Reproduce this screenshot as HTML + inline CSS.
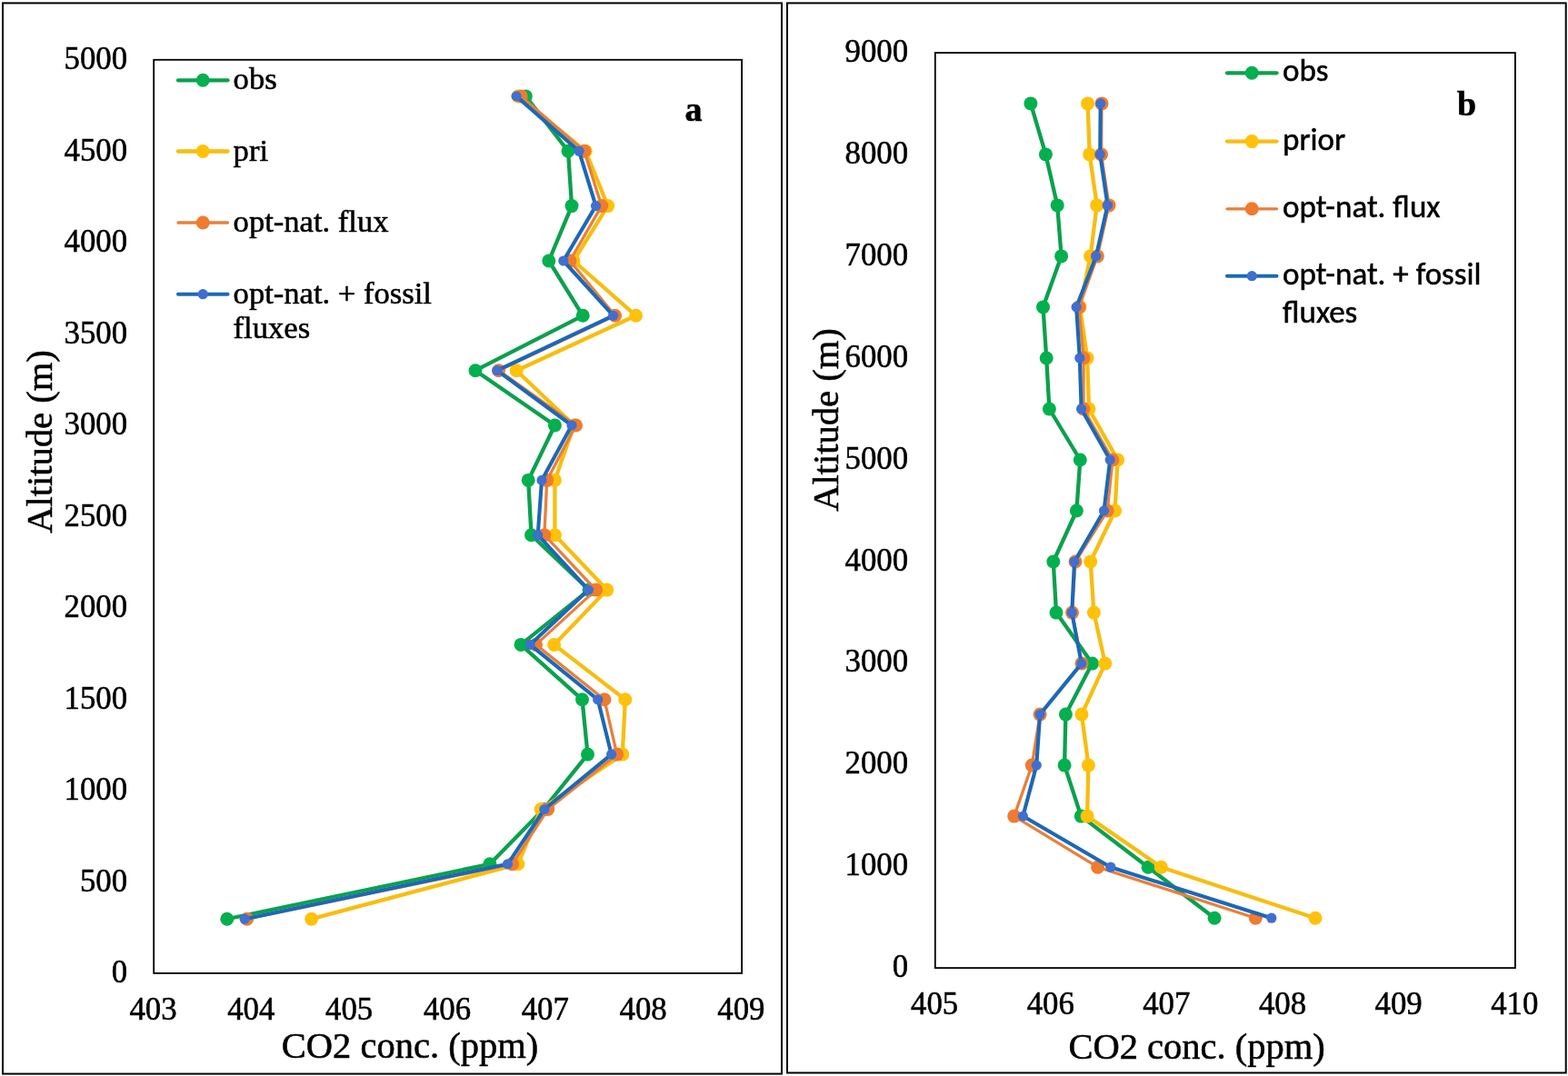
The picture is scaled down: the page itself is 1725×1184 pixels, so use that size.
<!DOCTYPE html>
<html><head><meta charset="utf-8"><title>CO2 profiles</title>
<style>html,body{margin:0;padding:0;background:#fff}svg{display:block}</style></head>
<body>
<svg width="1725" height="1184" viewBox="0 0 1725 1184">
<rect width="1725" height="1184" fill="#fff"/>
<rect x="3" y="3.4" width="857" height="1178.2" fill="none" stroke="#000" stroke-width="2"/>
<rect x="866" y="3.4" width="856.7" height="1177.1" fill="none" stroke="#000" stroke-width="2"/>
<rect x="169.2" y="65.8" width="646.9" height="1005.1" fill="none" stroke="#000" stroke-width="1.8"/>
<rect x="1028.8" y="58.1" width="638.1" height="1007.0" fill="none" stroke="#000" stroke-width="1.8"/>
<text transform="translate(140,1081.2) scale(0.965,1)" text-anchor="end" style="font-family:'Liberation Serif','Times New Roman',serif;stroke:#000;stroke-width:0.55px;font-size:36px">0</text>
<text transform="translate(140,980.7) scale(0.965,1)" text-anchor="end" style="font-family:'Liberation Serif','Times New Roman',serif;stroke:#000;stroke-width:0.55px;font-size:36px">500</text>
<text transform="translate(140,880.2) scale(0.965,1)" text-anchor="end" style="font-family:'Liberation Serif','Times New Roman',serif;stroke:#000;stroke-width:0.55px;font-size:36px">1000</text>
<text transform="translate(140,779.7) scale(0.965,1)" text-anchor="end" style="font-family:'Liberation Serif','Times New Roman',serif;stroke:#000;stroke-width:0.55px;font-size:36px">1500</text>
<text transform="translate(140,679.2) scale(0.965,1)" text-anchor="end" style="font-family:'Liberation Serif','Times New Roman',serif;stroke:#000;stroke-width:0.55px;font-size:36px">2000</text>
<text transform="translate(140,578.6) scale(0.965,1)" text-anchor="end" style="font-family:'Liberation Serif','Times New Roman',serif;stroke:#000;stroke-width:0.55px;font-size:36px">2500</text>
<text transform="translate(140,478.1) scale(0.965,1)" text-anchor="end" style="font-family:'Liberation Serif','Times New Roman',serif;stroke:#000;stroke-width:0.55px;font-size:36px">3000</text>
<text transform="translate(140,377.6) scale(0.965,1)" text-anchor="end" style="font-family:'Liberation Serif','Times New Roman',serif;stroke:#000;stroke-width:0.55px;font-size:36px">3500</text>
<text transform="translate(140,277.1) scale(0.965,1)" text-anchor="end" style="font-family:'Liberation Serif','Times New Roman',serif;stroke:#000;stroke-width:0.55px;font-size:36px">4000</text>
<text transform="translate(140,176.6) scale(0.965,1)" text-anchor="end" style="font-family:'Liberation Serif','Times New Roman',serif;stroke:#000;stroke-width:0.55px;font-size:36px">4500</text>
<text transform="translate(140,76.1) scale(0.965,1)" text-anchor="end" style="font-family:'Liberation Serif','Times New Roman',serif;stroke:#000;stroke-width:0.55px;font-size:36px">5000</text>
<text transform="translate(168.5,1122) scale(0.965,1)" text-anchor="middle" style="font-family:'Liberation Serif','Times New Roman',serif;stroke:#000;stroke-width:0.55px;font-size:36px">403</text>
<text transform="translate(276.3,1122) scale(0.965,1)" text-anchor="middle" style="font-family:'Liberation Serif','Times New Roman',serif;stroke:#000;stroke-width:0.55px;font-size:36px">404</text>
<text transform="translate(384.1,1122) scale(0.965,1)" text-anchor="middle" style="font-family:'Liberation Serif','Times New Roman',serif;stroke:#000;stroke-width:0.55px;font-size:36px">405</text>
<text transform="translate(492.0,1122) scale(0.965,1)" text-anchor="middle" style="font-family:'Liberation Serif','Times New Roman',serif;stroke:#000;stroke-width:0.55px;font-size:36px">406</text>
<text transform="translate(599.8,1122) scale(0.965,1)" text-anchor="middle" style="font-family:'Liberation Serif','Times New Roman',serif;stroke:#000;stroke-width:0.55px;font-size:36px">407</text>
<text transform="translate(707.6,1122) scale(0.965,1)" text-anchor="middle" style="font-family:'Liberation Serif','Times New Roman',serif;stroke:#000;stroke-width:0.55px;font-size:36px">408</text>
<text transform="translate(815.4,1122) scale(0.965,1)" text-anchor="middle" style="font-family:'Liberation Serif','Times New Roman',serif;stroke:#000;stroke-width:0.55px;font-size:36px">409</text>
<text x="451" y="1164.3" text-anchor="middle" style="font-family:'Liberation Serif','Times New Roman',serif;stroke:#000;stroke-width:0.55px;font-size:40.5px">CO2 conc. (ppm)</text>
<text transform="translate(56.9,486) rotate(-90)" text-anchor="middle" style="font-family:'Liberation Serif','Times New Roman',serif;stroke:#000;stroke-width:0.55px;font-size:40.6px">Altitude (m)</text>
<text x="753.5" y="132.6" style="font-family:'Liberation Serif','Times New Roman',serif;stroke:#000;stroke-width:0.55px;font-size:38px;font-weight:bold">a</text>
<line x1="196" y1="88.3" x2="250.5" y2="88.3" stroke="#0ca04e" stroke-width="4.3" stroke-linecap="round"/><circle cx="223.25" cy="88.3" r="7.5" fill="#04b04e"/>
<text x="256.6" y="98.3" style="font-family:'Liberation Serif','Times New Roman',serif;stroke:#000;stroke-width:0.55px;font-size:34.6px">obs</text>
<line x1="196" y1="166.5" x2="250.5" y2="166.5" stroke="#f7bd10" stroke-width="4.3" stroke-linecap="round"/><circle cx="223.25" cy="166.5" r="7.5" fill="#ffc10a"/>
<text x="256.6" y="176.5" style="font-family:'Liberation Serif','Times New Roman',serif;stroke:#000;stroke-width:0.55px;font-size:34.6px">pri</text>
<line x1="196" y1="245" x2="250.5" y2="245" stroke="#e8803a" stroke-width="3.3" stroke-linecap="round"/><circle cx="223.25" cy="245" r="7.5" fill="#ef7b2f"/>
<text x="256.6" y="255.0" style="font-family:'Liberation Serif','Times New Roman',serif;stroke:#000;stroke-width:0.55px;font-size:34.6px">opt-nat. flux</text>
<line x1="196" y1="323.7" x2="250.5" y2="323.7" stroke="#1c68b8" stroke-width="4.1" stroke-linecap="round"/><circle cx="223.25" cy="323.7" r="5.6" fill="#3f6fd0"/>
<text x="256.6" y="333.7" style="font-family:'Liberation Serif','Times New Roman',serif;stroke:#000;stroke-width:0.55px;font-size:34.6px">opt-nat. + fossil</text>
<text x="256.6" y="371.6" style="font-family:'Liberation Serif','Times New Roman',serif;stroke:#000;stroke-width:0.55px;font-size:34.6px">fluxes</text>
<text transform="translate(999,1075.1) scale(0.965,1)" text-anchor="end" style="font-family:'Liberation Serif','Times New Roman',serif;stroke:#000;stroke-width:0.55px;font-size:36px">0</text>
<text transform="translate(999,963.2) scale(0.965,1)" text-anchor="end" style="font-family:'Liberation Serif','Times New Roman',serif;stroke:#000;stroke-width:0.55px;font-size:36px">1000</text>
<text transform="translate(999,851.3) scale(0.965,1)" text-anchor="end" style="font-family:'Liberation Serif','Times New Roman',serif;stroke:#000;stroke-width:0.55px;font-size:36px">2000</text>
<text transform="translate(999,739.4) scale(0.965,1)" text-anchor="end" style="font-family:'Liberation Serif','Times New Roman',serif;stroke:#000;stroke-width:0.55px;font-size:36px">3000</text>
<text transform="translate(999,627.5) scale(0.965,1)" text-anchor="end" style="font-family:'Liberation Serif','Times New Roman',serif;stroke:#000;stroke-width:0.55px;font-size:36px">4000</text>
<text transform="translate(999,515.7) scale(0.965,1)" text-anchor="end" style="font-family:'Liberation Serif','Times New Roman',serif;stroke:#000;stroke-width:0.55px;font-size:36px">5000</text>
<text transform="translate(999,403.8) scale(0.965,1)" text-anchor="end" style="font-family:'Liberation Serif','Times New Roman',serif;stroke:#000;stroke-width:0.55px;font-size:36px">6000</text>
<text transform="translate(999,291.9) scale(0.965,1)" text-anchor="end" style="font-family:'Liberation Serif','Times New Roman',serif;stroke:#000;stroke-width:0.55px;font-size:36px">7000</text>
<text transform="translate(999,180.0) scale(0.965,1)" text-anchor="end" style="font-family:'Liberation Serif','Times New Roman',serif;stroke:#000;stroke-width:0.55px;font-size:36px">8000</text>
<text transform="translate(999,68.1) scale(0.965,1)" text-anchor="end" style="font-family:'Liberation Serif','Times New Roman',serif;stroke:#000;stroke-width:0.55px;font-size:36px">9000</text>
<text transform="translate(1028.1,1116.4) scale(0.965,1)" text-anchor="middle" style="font-family:'Liberation Serif','Times New Roman',serif;stroke:#000;stroke-width:0.55px;font-size:36px">405</text>
<text transform="translate(1155.7,1116.4) scale(0.965,1)" text-anchor="middle" style="font-family:'Liberation Serif','Times New Roman',serif;stroke:#000;stroke-width:0.55px;font-size:36px">406</text>
<text transform="translate(1283.3,1116.4) scale(0.965,1)" text-anchor="middle" style="font-family:'Liberation Serif','Times New Roman',serif;stroke:#000;stroke-width:0.55px;font-size:36px">407</text>
<text transform="translate(1411.0,1116.4) scale(0.965,1)" text-anchor="middle" style="font-family:'Liberation Serif','Times New Roman',serif;stroke:#000;stroke-width:0.55px;font-size:36px">408</text>
<text transform="translate(1538.6,1116.4) scale(0.965,1)" text-anchor="middle" style="font-family:'Liberation Serif','Times New Roman',serif;stroke:#000;stroke-width:0.55px;font-size:36px">409</text>
<text transform="translate(1666.2,1116.4) scale(0.965,1)" text-anchor="middle" style="font-family:'Liberation Serif','Times New Roman',serif;stroke:#000;stroke-width:0.55px;font-size:36px">410</text>
<text x="1316.6" y="1165.2" text-anchor="middle" style="font-family:'Liberation Serif','Times New Roman',serif;stroke:#000;stroke-width:0.55px;font-size:40.5px">CO2 conc. (ppm)</text>
<text transform="translate(921.6,462) rotate(-90)" text-anchor="middle" style="font-family:'Liberation Serif','Times New Roman',serif;stroke:#000;stroke-width:0.55px;font-size:40.6px">Altitude (m)</text>
<text x="1603" y="127.4" style="font-family:'Liberation Serif','Times New Roman',serif;stroke:#000;stroke-width:0.55px;font-size:38px;font-weight:bold">b</text>
<line x1="1350" y1="80.3" x2="1404.5" y2="80.3" stroke="#0ca04e" stroke-width="4.3" stroke-linecap="round"/><circle cx="1377.25" cy="80.3" r="7.5" fill="#04b04e"/>
<text x="1411" y="89.3" style="font-family:Carlito,'Liberation Sans',Arial,sans-serif;stroke:#000;stroke-width:0.5px;font-size:35px">obs</text>
<line x1="1350" y1="155.6" x2="1404.5" y2="155.6" stroke="#f7bd10" stroke-width="4.3" stroke-linecap="round"/><circle cx="1377.25" cy="155.6" r="7.5" fill="#ffc10a"/>
<text x="1411" y="164.6" style="font-family:Carlito,'Liberation Sans',Arial,sans-serif;stroke:#000;stroke-width:0.5px;font-size:35px">prior</text>
<line x1="1350" y1="229.8" x2="1404.5" y2="229.8" stroke="#e8803a" stroke-width="3.3" stroke-linecap="round"/><circle cx="1377.25" cy="229.8" r="7.5" fill="#ef7b2f"/>
<text x="1411" y="238.8" style="font-family:Carlito,'Liberation Sans',Arial,sans-serif;stroke:#000;stroke-width:0.5px;font-size:35px">opt-nat. flux</text>
<line x1="1350" y1="303.7" x2="1404.5" y2="303.7" stroke="#1c68b8" stroke-width="4.1" stroke-linecap="round"/><circle cx="1377.25" cy="303.7" r="5.6" fill="#3f6fd0"/>
<text x="1411" y="312.7" style="font-family:Carlito,'Liberation Sans',Arial,sans-serif;stroke:#000;stroke-width:0.5px;font-size:35px">opt-nat. + fossil</text>
<text x="1411" y="355" style="font-family:Carlito,'Liberation Sans',Arial,sans-serif;stroke:#000;stroke-width:0.5px;font-size:35px">fluxes</text>
<polyline points="578.3,105.9 625.0,166.3 629.0,226.6 603.8,287.0 641.2,347.3 523.0,407.7 610.4,468.0 581.2,528.4 584.5,588.7 648.0,649.1 573.0,709.4 640.5,769.8 646.5,830.1 598.0,890.5 538.9,950.8 249.8,1011.2" fill="none" stroke="#0ca04e" stroke-width="4.3" stroke-linejoin="round" stroke-linecap="round"/>
<circle cx="578.3" cy="105.9" r="7.5" fill="#04b04e"/>
<circle cx="625.0" cy="166.3" r="7.5" fill="#04b04e"/>
<circle cx="629.0" cy="226.6" r="7.5" fill="#04b04e"/>
<circle cx="603.8" cy="287.0" r="7.5" fill="#04b04e"/>
<circle cx="641.2" cy="347.3" r="7.5" fill="#04b04e"/>
<circle cx="523.0" cy="407.7" r="7.5" fill="#04b04e"/>
<circle cx="610.4" cy="468.0" r="7.5" fill="#04b04e"/>
<circle cx="581.2" cy="528.4" r="7.5" fill="#04b04e"/>
<circle cx="584.5" cy="588.7" r="7.5" fill="#04b04e"/>
<circle cx="648.0" cy="649.1" r="7.5" fill="#04b04e"/>
<circle cx="573.0" cy="709.4" r="7.5" fill="#04b04e"/>
<circle cx="640.5" cy="769.8" r="7.5" fill="#04b04e"/>
<circle cx="646.5" cy="830.1" r="7.5" fill="#04b04e"/>
<circle cx="598.0" cy="890.5" r="7.5" fill="#04b04e"/>
<circle cx="538.9" cy="950.8" r="7.5" fill="#04b04e"/>
<circle cx="249.8" cy="1011.2" r="7.5" fill="#04b04e"/>
<polyline points="570.0,105.9 644.2,166.3 668.7,226.6 631.0,287.0 699.6,347.3 568.2,407.7 631.5,468.0 610.4,528.4 610.4,588.7 667.7,649.1 609.6,709.4 687.8,769.8 684.8,830.1 595.1,890.5 569.8,950.8 342.7,1011.2" fill="none" stroke="#f7bd10" stroke-width="4.3" stroke-linejoin="round" stroke-linecap="round"/>
<circle cx="570.0" cy="105.9" r="7.5" fill="#ffc10a"/>
<circle cx="644.2" cy="166.3" r="7.5" fill="#ffc10a"/>
<circle cx="668.7" cy="226.6" r="7.5" fill="#ffc10a"/>
<circle cx="631.0" cy="287.0" r="7.5" fill="#ffc10a"/>
<circle cx="699.6" cy="347.3" r="7.5" fill="#ffc10a"/>
<circle cx="568.2" cy="407.7" r="7.5" fill="#ffc10a"/>
<circle cx="631.5" cy="468.0" r="7.5" fill="#ffc10a"/>
<circle cx="610.4" cy="528.4" r="7.5" fill="#ffc10a"/>
<circle cx="610.4" cy="588.7" r="7.5" fill="#ffc10a"/>
<circle cx="667.7" cy="649.1" r="7.5" fill="#ffc10a"/>
<circle cx="609.6" cy="709.4" r="7.5" fill="#ffc10a"/>
<circle cx="687.8" cy="769.8" r="7.5" fill="#ffc10a"/>
<circle cx="684.8" cy="830.1" r="7.5" fill="#ffc10a"/>
<circle cx="595.1" cy="890.5" r="7.5" fill="#ffc10a"/>
<circle cx="569.8" cy="950.8" r="7.5" fill="#ffc10a"/>
<circle cx="342.7" cy="1011.2" r="7.5" fill="#ffc10a"/>
<polyline points="573.2,105.9 642.8,166.3 661.8,226.6 627.0,287.0 676.6,347.3 548.5,407.7 633.5,468.0 601.7,528.4 598.9,588.7 655.5,649.1 589.5,709.4 664.9,769.8 678.7,830.1 602.7,890.5 563.5,950.8 271.7,1011.2" fill="none" stroke="#e8803a" stroke-width="3.3" stroke-linejoin="round" stroke-linecap="round"/>
<circle cx="573.2" cy="105.9" r="7.5" fill="#ef7b2f"/>
<circle cx="642.8" cy="166.3" r="7.5" fill="#ef7b2f"/>
<circle cx="661.8" cy="226.6" r="7.5" fill="#ef7b2f"/>
<circle cx="627.0" cy="287.0" r="7.5" fill="#ef7b2f"/>
<circle cx="676.6" cy="347.3" r="7.5" fill="#ef7b2f"/>
<circle cx="548.5" cy="407.7" r="7.5" fill="#ef7b2f"/>
<circle cx="633.5" cy="468.0" r="7.5" fill="#ef7b2f"/>
<circle cx="601.7" cy="528.4" r="7.5" fill="#ef7b2f"/>
<circle cx="598.9" cy="588.7" r="7.5" fill="#ef7b2f"/>
<circle cx="655.5" cy="649.1" r="7.5" fill="#ef7b2f"/>
<circle cx="589.5" cy="709.4" r="7.5" fill="#ef7b2f"/>
<circle cx="664.9" cy="769.8" r="7.5" fill="#ef7b2f"/>
<circle cx="678.7" cy="830.1" r="7.5" fill="#ef7b2f"/>
<circle cx="602.7" cy="890.5" r="7.5" fill="#ef7b2f"/>
<circle cx="563.5" cy="950.8" r="7.5" fill="#ef7b2f"/>
<circle cx="271.7" cy="1011.2" r="7.5" fill="#ef7b2f"/>
<polyline points="568.1,105.9 637.0,166.3 655.5,226.6 619.8,287.0 674.7,347.3 546.9,407.7 629.0,468.0 596.0,528.4 591.7,588.7 647.4,649.1 583.1,709.4 657.7,769.8 672.6,830.1 598.9,890.5 558.5,950.8 269.2,1011.2" fill="none" stroke="#1c68b8" stroke-width="4.1" stroke-linejoin="round" stroke-linecap="round"/>
<circle cx="568.1" cy="105.9" r="5.6" fill="#3f6fd0"/>
<circle cx="637.0" cy="166.3" r="5.6" fill="#3f6fd0"/>
<circle cx="655.5" cy="226.6" r="5.6" fill="#3f6fd0"/>
<circle cx="619.8" cy="287.0" r="5.6" fill="#3f6fd0"/>
<circle cx="674.7" cy="347.3" r="5.6" fill="#3f6fd0"/>
<circle cx="546.9" cy="407.7" r="5.6" fill="#3f6fd0"/>
<circle cx="629.0" cy="468.0" r="5.6" fill="#3f6fd0"/>
<circle cx="596.0" cy="528.4" r="5.6" fill="#3f6fd0"/>
<circle cx="591.7" cy="588.7" r="5.6" fill="#3f6fd0"/>
<circle cx="647.4" cy="649.1" r="5.6" fill="#3f6fd0"/>
<circle cx="583.1" cy="709.4" r="5.6" fill="#3f6fd0"/>
<circle cx="657.7" cy="769.8" r="5.6" fill="#3f6fd0"/>
<circle cx="672.6" cy="830.1" r="5.6" fill="#3f6fd0"/>
<circle cx="598.9" cy="890.5" r="5.6" fill="#3f6fd0"/>
<circle cx="558.5" cy="950.8" r="5.6" fill="#3f6fd0"/>
<circle cx="269.2" cy="1011.2" r="5.6" fill="#3f6fd0"/>
<polyline points="1133.9,113.9 1150.4,169.9 1163.2,225.9 1167.6,281.9 1147.5,337.9 1151.2,394.0 1154.4,450.0 1188.3,506.0 1184.4,562.0 1158.8,618.0 1162.0,674.1 1201.5,730.1 1172.4,786.1 1171.1,842.1 1189.3,898.1 1263.1,954.2 1336.1,1010.2" fill="none" stroke="#0ca04e" stroke-width="4.3" stroke-linejoin="round" stroke-linecap="round"/>
<circle cx="1133.9" cy="113.9" r="7.5" fill="#04b04e"/>
<circle cx="1150.4" cy="169.9" r="7.5" fill="#04b04e"/>
<circle cx="1163.2" cy="225.9" r="7.5" fill="#04b04e"/>
<circle cx="1167.6" cy="281.9" r="7.5" fill="#04b04e"/>
<circle cx="1147.5" cy="337.9" r="7.5" fill="#04b04e"/>
<circle cx="1151.2" cy="394.0" r="7.5" fill="#04b04e"/>
<circle cx="1154.4" cy="450.0" r="7.5" fill="#04b04e"/>
<circle cx="1188.3" cy="506.0" r="7.5" fill="#04b04e"/>
<circle cx="1184.4" cy="562.0" r="7.5" fill="#04b04e"/>
<circle cx="1158.8" cy="618.0" r="7.5" fill="#04b04e"/>
<circle cx="1162.0" cy="674.1" r="7.5" fill="#04b04e"/>
<circle cx="1201.5" cy="730.1" r="7.5" fill="#04b04e"/>
<circle cx="1172.4" cy="786.1" r="7.5" fill="#04b04e"/>
<circle cx="1171.1" cy="842.1" r="7.5" fill="#04b04e"/>
<circle cx="1189.3" cy="898.1" r="7.5" fill="#04b04e"/>
<circle cx="1263.1" cy="954.2" r="7.5" fill="#04b04e"/>
<circle cx="1336.1" cy="1010.2" r="7.5" fill="#04b04e"/>
<polyline points="1196.6,113.9 1198.7,169.9 1206.7,225.9 1199.6,281.9 1188.0,337.9 1196.1,394.0 1198.0,450.0 1229.6,506.0 1226.6,562.0 1199.7,618.0 1203.4,674.1 1215.8,730.1 1190.0,786.1 1197.4,842.1 1196.1,898.1 1277.4,954.2 1447.0,1010.2" fill="none" stroke="#f7bd10" stroke-width="4.3" stroke-linejoin="round" stroke-linecap="round"/>
<circle cx="1196.6" cy="113.9" r="7.5" fill="#ffc10a"/>
<circle cx="1198.7" cy="169.9" r="7.5" fill="#ffc10a"/>
<circle cx="1206.7" cy="225.9" r="7.5" fill="#ffc10a"/>
<circle cx="1199.6" cy="281.9" r="7.5" fill="#ffc10a"/>
<circle cx="1188.0" cy="337.9" r="7.5" fill="#ffc10a"/>
<circle cx="1196.1" cy="394.0" r="7.5" fill="#ffc10a"/>
<circle cx="1198.0" cy="450.0" r="7.5" fill="#ffc10a"/>
<circle cx="1229.6" cy="506.0" r="7.5" fill="#ffc10a"/>
<circle cx="1226.6" cy="562.0" r="7.5" fill="#ffc10a"/>
<circle cx="1199.7" cy="618.0" r="7.5" fill="#ffc10a"/>
<circle cx="1203.4" cy="674.1" r="7.5" fill="#ffc10a"/>
<circle cx="1215.8" cy="730.1" r="7.5" fill="#ffc10a"/>
<circle cx="1190.0" cy="786.1" r="7.5" fill="#ffc10a"/>
<circle cx="1197.4" cy="842.1" r="7.5" fill="#ffc10a"/>
<circle cx="1196.1" cy="898.1" r="7.5" fill="#ffc10a"/>
<circle cx="1277.4" cy="954.2" r="7.5" fill="#ffc10a"/>
<circle cx="1447.0" cy="1010.2" r="7.5" fill="#ffc10a"/>
<polyline points="1212.0,113.9 1211.5,169.9 1220.0,225.9 1207.3,281.9 1187.0,337.9 1192.0,394.0 1192.0,450.0 1224.0,506.0 1218.2,562.0 1183.0,618.0 1179.5,674.1 1190.0,730.1 1144.1,786.1 1135.3,842.1 1115.7,898.1 1207.6,954.2 1381.3,1010.2" fill="none" stroke="#e8803a" stroke-width="3.3" stroke-linejoin="round" stroke-linecap="round"/>
<circle cx="1212.0" cy="113.9" r="7.5" fill="#ef7b2f"/>
<circle cx="1211.5" cy="169.9" r="7.5" fill="#ef7b2f"/>
<circle cx="1220.0" cy="225.9" r="7.5" fill="#ef7b2f"/>
<circle cx="1207.3" cy="281.9" r="7.5" fill="#ef7b2f"/>
<circle cx="1187.0" cy="337.9" r="7.5" fill="#ef7b2f"/>
<circle cx="1192.0" cy="394.0" r="7.5" fill="#ef7b2f"/>
<circle cx="1192.0" cy="450.0" r="7.5" fill="#ef7b2f"/>
<circle cx="1224.0" cy="506.0" r="7.5" fill="#ef7b2f"/>
<circle cx="1218.2" cy="562.0" r="7.5" fill="#ef7b2f"/>
<circle cx="1183.0" cy="618.0" r="7.5" fill="#ef7b2f"/>
<circle cx="1179.5" cy="674.1" r="7.5" fill="#ef7b2f"/>
<circle cx="1190.0" cy="730.1" r="7.5" fill="#ef7b2f"/>
<circle cx="1144.1" cy="786.1" r="7.5" fill="#ef7b2f"/>
<circle cx="1135.3" cy="842.1" r="7.5" fill="#ef7b2f"/>
<circle cx="1115.7" cy="898.1" r="7.5" fill="#ef7b2f"/>
<circle cx="1207.6" cy="954.2" r="7.5" fill="#ef7b2f"/>
<circle cx="1381.3" cy="1010.2" r="7.5" fill="#ef7b2f"/>
<polyline points="1210.7,113.9 1210.2,169.9 1218.5,225.9 1205.8,281.9 1184.1,337.9 1187.8,394.0 1189.6,450.0 1221.2,506.0 1214.5,562.0 1182.0,618.0 1179.2,674.1 1189.8,730.1 1144.1,786.1 1140.3,842.1 1125.4,898.1 1221.9,954.2 1398.8,1010.2" fill="none" stroke="#1c68b8" stroke-width="4.1" stroke-linejoin="round" stroke-linecap="round"/>
<circle cx="1210.7" cy="113.9" r="5.6" fill="#3f6fd0"/>
<circle cx="1210.2" cy="169.9" r="5.6" fill="#3f6fd0"/>
<circle cx="1218.5" cy="225.9" r="5.6" fill="#3f6fd0"/>
<circle cx="1205.8" cy="281.9" r="5.6" fill="#3f6fd0"/>
<circle cx="1184.1" cy="337.9" r="5.6" fill="#3f6fd0"/>
<circle cx="1187.8" cy="394.0" r="5.6" fill="#3f6fd0"/>
<circle cx="1189.6" cy="450.0" r="5.6" fill="#3f6fd0"/>
<circle cx="1221.2" cy="506.0" r="5.6" fill="#3f6fd0"/>
<circle cx="1214.5" cy="562.0" r="5.6" fill="#3f6fd0"/>
<circle cx="1182.0" cy="618.0" r="5.6" fill="#3f6fd0"/>
<circle cx="1179.2" cy="674.1" r="5.6" fill="#3f6fd0"/>
<circle cx="1189.8" cy="730.1" r="5.6" fill="#3f6fd0"/>
<circle cx="1144.1" cy="786.1" r="5.6" fill="#3f6fd0"/>
<circle cx="1140.3" cy="842.1" r="5.6" fill="#3f6fd0"/>
<circle cx="1125.4" cy="898.1" r="5.6" fill="#3f6fd0"/>
<circle cx="1221.9" cy="954.2" r="5.6" fill="#3f6fd0"/>
<circle cx="1398.8" cy="1010.2" r="5.6" fill="#3f6fd0"/>
</svg>
</body></html>
